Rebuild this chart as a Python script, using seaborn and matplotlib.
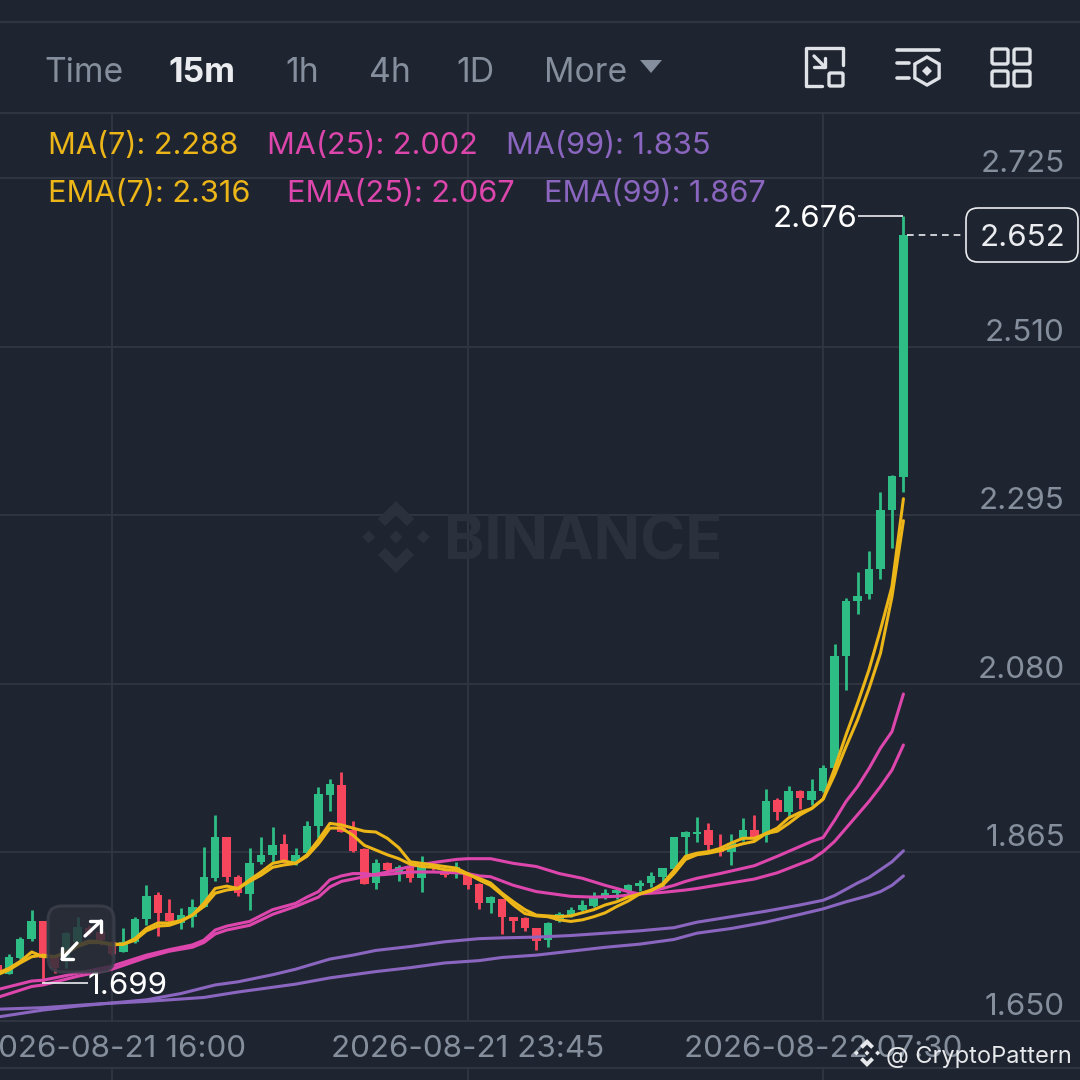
import matplotlib
matplotlib.use("Agg")
import matplotlib.pyplot as plt
import numpy as np
import pandas as pd
import seaborn as sns
from matplotlib.patches import FancyBboxPatch, Polygon

# candle index 0 = 2026-08-21 16:00, one step = 15 minutes
first_candle = -10
opens = [1.7214, 1.710, 1.730, 1.755, 1.777, 1.733, 1.728, 1.751, 1.768, 1.763,
         1.751, 1.738, 1.751, 1.780, 1.811, 1.788, 1.775, 1.783, 1.796, 1.832,
         1.884, 1.834, 1.812, 1.853, 1.862, 1.876, 1.853, 1.864, 1.899, 1.938,
         1.951, 1.893, 1.869, 1.826, 1.852, 1.838, 1.846, 1.832, 1.849, 1.841,
         1.838, 1.838, 1.825, 1.800, 1.805, 1.782, 1.781, 1.768, 1.753, 1.777,
         1.785, 1.791, 1.797, 1.808, 1.813, 1.815, 1.822, 1.826, 1.834, 1.844,
         1.885, 1.889, 1.894, 1.870, 1.866, 1.883, 1.893, 1.887, 1.932, 1.916,
         1.943, 1.932, 1.943, 1.972, 2.115, 2.186, 2.194, 2.227, 2.302, 2.344]
highs = [1.724, 1.736, 1.757, 1.791, 1.778, 1.733, 1.764, 1.782, 1.772, 1.766,
         1.752, 1.769, 1.783, 1.823, 1.814, 1.806, 1.794, 1.806, 1.872, 1.913,
         1.885, 1.836, 1.870, 1.884, 1.898, 1.888, 1.870, 1.905, 1.948, 1.958,
         1.967, 1.905, 1.871, 1.857, 1.853, 1.849, 1.849, 1.860, 1.851, 1.843,
         1.853, 1.840, 1.826, 1.809, 1.806, 1.783, 1.782, 1.769, 1.776, 1.789,
         1.796, 1.804, 1.815, 1.818, 1.820, 1.825, 1.830, 1.840, 1.845, 1.885,
         1.892, 1.910, 1.903, 1.889, 1.888, 1.909, 1.913, 1.946, 1.935, 1.950,
         1.945, 1.958, 1.977, 2.131, 2.189, 2.223, 2.249, 2.324, 2.346, 2.676]
lows = [1.706, 1.7095, 1.729, 1.752, 1.699, 1.711, 1.717, 1.749, 1.760, 1.747,
        1.733, 1.738, 1.750, 1.772, 1.759, 1.776, 1.767, 1.770, 1.795, 1.829,
        1.827, 1.809, 1.792, 1.850, 1.853, 1.851, 1.849, 1.862, 1.883, 1.918,
        1.891, 1.865, 1.825, 1.818, 1.840, 1.829, 1.827, 1.815, 1.843, 1.834,
        1.832, 1.818, 1.793, 1.788, 1.761, 1.764, 1.765, 1.740, 1.744, 1.776,
        1.783, 1.790, 1.796, 1.806, 1.806, 1.812, 1.816, 1.821, 1.819, 1.843,
        1.859, 1.878, 1.868, 1.860, 1.849, 1.879, 1.879, 1.878, 1.906, 1.911,
        1.920, 1.926, 1.942, 1.971, 2.072, 2.169, 2.188, 2.213, 2.253, 2.324]
closes = [1.7108, 1.7312, 1.755, 1.777, 1.730, 1.717, 1.762, 1.770, 1.762, 1.753,
          1.736, 1.751, 1.780, 1.810, 1.788, 1.777, 1.785, 1.795, 1.834, 1.884,
          1.834, 1.813, 1.852, 1.862, 1.874, 1.855, 1.862, 1.899, 1.940, 1.952,
          1.891, 1.867, 1.825, 1.851, 1.843, 1.846, 1.832, 1.853, 1.845, 1.836,
          1.846, 1.823, 1.800, 1.808, 1.783, 1.777, 1.768, 1.752, 1.775, 1.787,
          1.791, 1.798, 1.809, 1.813, 1.817, 1.823, 1.826, 1.835, 1.845, 1.884,
          1.891, 1.891, 1.875, 1.866, 1.877, 1.893, 1.885, 1.931, 1.916, 1.943,
          1.934, 1.943, 1.972, 2.115, 2.185, 2.192, 2.226, 2.302, 2.345, 2.652]

ma7 = [1.711, 1.717, 1.726, 1.738, 1.732, 1.732, 1.738, 1.747, 1.752, 1.751,
       1.748, 1.748, 1.755, 1.768, 1.775, 1.775, 1.778, 1.785, 1.800, 1.819,
       1.822, 1.819, 1.830, 1.840, 1.851, 1.854, 1.851, 1.862, 1.881, 1.902,
       1.900, 1.896, 1.892, 1.891, 1.883, 1.871, 1.853, 1.851, 1.849, 1.847,
       1.845, 1.838, 1.830, 1.823, 1.811, 1.798, 1.787, 1.784, 1.783, 1.779,
       1.777, 1.779, 1.783, 1.788, 1.796, 1.803, 1.812, 1.817, 1.823, 1.838,
       1.856, 1.862, 1.864, 1.867, 1.872, 1.876, 1.879, 1.889, 1.892, 1.902,
       1.913, 1.921, 1.933, 1.964, 2.000, 2.034, 2.074, 2.119, 2.191, 2.288]
ema7 = [1.709, 1.715, 1.724, 1.732, 1.734, 1.732, 1.736, 1.745, 1.750, 1.750,
        1.747, 1.748, 1.753, 1.765, 1.771, 1.772, 1.777, 1.785, 1.796, 1.813,
        1.817, 1.819, 1.828, 1.836, 1.846, 1.849, 1.851, 1.860, 1.876, 1.896,
        1.896, 1.887, 1.874, 1.868, 1.862, 1.857, 1.850, 1.847, 1.846, 1.843,
        1.842, 1.837, 1.832, 1.826, 1.813, 1.802, 1.792, 1.785, 1.784, 1.783,
        1.784, 1.788, 1.792, 1.798, 1.802, 1.808, 1.812, 1.816, 1.825, 1.842,
        1.860, 1.864, 1.866, 1.870, 1.877, 1.883, 1.883, 1.889, 1.896, 1.909,
        1.916, 1.921, 1.933, 1.972, 2.015, 2.055, 2.098, 2.149, 2.204, 2.316]

ma25_at = [-10, -7, -6, -3, 0, 3, 5, 7, 8, 9, 10, 12, 14, 16, 17, 18, 19, 20, 21, 22, 23, 24, 26,
           28, 30, 31, 33, 35, 37, 39, 41, 43, 45, 46, 48, 50, 51, 56, 58, 61, 62, 63, 64, 65,
           66, 67, 68, 69]
ma25 = [1.680, 1.694, 1.696, 1.707, 1.716, 1.731, 1.739, 1.744, 1.750, 1.761, 1.766, 1.772,
        1.786, 1.796, 1.802, 1.808, 1.821, 1.828, 1.831, 1.834, 1.837, 1.840, 1.847, 1.852,
        1.856, 1.857, 1.857, 1.851, 1.847, 1.838, 1.832, 1.823, 1.815, 1.812, 1.814, 1.817,
        1.819, 1.831, 1.839, 1.856, 1.866, 1.879, 1.896, 1.913, 1.930, 1.949, 1.970, 2.002]
ema25_at = [-10, -7, -6, -3, 0, 3, 5, 7, 8, 9, 10, 12, 14, 16, 17, 18, 19, 20, 21, 22, 23, 24, 26,
            28, 30, 31, 32, 33, 35, 37, 38, 40, 42, 44, 46, 48, 49, 50, 51, 53, 56, 58, 61, 62,
            63, 64, 65, 66, 67, 68, 69]
ema25 = [1.690, 1.701, 1.702, 1.711, 1.720, 1.734, 1.741, 1.747, 1.753, 1.766, 1.771, 1.777,
         1.792, 1.800, 1.808, 1.815, 1.830, 1.835, 1.838, 1.838, 1.836, 1.837, 1.840, 1.840,
         1.839, 1.838, 1.835, 1.834, 1.823, 1.815, 1.813, 1.809, 1.808, 1.809, 1.812, 1.819,
         1.823, 1.828, 1.832, 1.838, 1.848, 1.860, 1.879, 1.884, 1.906, 1.930, 1.949, 1.972,
         1.998, 2.019, 2.067]
ma99_at = [-10, -6, -1, 3, 8, 11, 14, 16, 19, 21, 23, 26, 29, 32, 34, 37, 40, 43, 46, 49, 51,
           54, 57, 60, 62, 64, 66, 67, 68, 69]
ma99 = [1.665, 1.667, 1.672, 1.675, 1.680, 1.687, 1.693, 1.697, 1.705, 1.709, 1.713, 1.718,
        1.724, 1.727, 1.731, 1.734, 1.739, 1.744, 1.748, 1.754, 1.762, 1.768, 1.776, 1.786,
        1.793, 1.802, 1.810, 1.815, 1.823, 1.835]
ema99_at = [-10, -6, -3, 0, 3, 6, 9, 11, 14, 16, 19, 21, 23, 26, 29, 32, 34, 37, 40, 43, 46, 49,
            51, 54, 57, 60, 62, 63, 65, 66, 67, 68, 69]
ema99 = [1.655, 1.664, 1.669, 1.673, 1.677, 1.685, 1.696, 1.700, 1.709, 1.716, 1.729, 1.734,
         1.740, 1.745, 1.751, 1.755, 1.756, 1.757, 1.759, 1.762, 1.765, 1.769, 1.776, 1.783,
         1.790, 1.798, 1.804, 1.810, 1.826, 1.833, 1.843, 1.853, 1.867]

price_ticks = [1.650, 1.865, 2.080, 2.295, 2.510, 2.725]
time_ticks = [0, 31, 62]
time_labels = ["2026-08-21 16:00", "2026-08-21 23:45", "2026-08-22 07:30"]

BG = "#1f2530"
GRID = "#2f3541"
GRAY = "#848e9c"
WHITE = "#eaecef"
GREEN = "#2ebd85"
RED = "#f6465d"
YELLOW = "#ecb518"
PINK = "#dd46ac"
PURPLE = "#8b66c0"

sns.set_theme(style="dark")
plt.rcParams["font.family"] = ["Inter", "DejaVu Sans"]

fig = plt.figure(figsize=(10.8, 10.8), dpi=100, facecolor=BG)
ax = fig.add_axes([0, 59 / 1080, 1, 908 / 1080], facecolor=BG)

candles = pd.DataFrame({"o": opens, "h": highs, "l": lows, "c": closes})
candles["i"] = np.arange(len(candles)) + first_candle
candles["color"] = np.where(candles["c"] >= candles["o"], GREEN, RED)

ax.vlines(candles["i"], candles["l"], candles["h"], colors=candles["color"], lw=2.0, zorder=2)
ax.bar(candles["i"], (candles["c"] - candles["o"]).abs(), bottom=candles[["o", "c"]].min(axis=1),
       width=0.74, color=candles["color"], linewidth=0, zorder=2.1)

lines = [
    (ema99_at, ema99, PURPLE),
    (ma99_at, ma99, PURPLE),
    (ema25_at, ema25, PINK),
    (ma25_at, ma25, PINK),
    (candles["i"], ema7, YELLOW),
    (candles["i"], ma7, YELLOW),
]
for xs, ys, col in lines:
    sns.lineplot(x=np.asarray(xs), y=ys, ax=ax, color=col, lw=2.2, estimator=None, sort=False,
                 legend=False, zorder=3)

ax.set_xlim(-112 / 11.47, 968 / 11.47)
ax.set_ylim(1.65, 1.65 + 908 / 784.2)
ax.set_xlabel("")
ax.set_ylabel("")
ax.set_axisbelow(True)
ax.grid(True, color=GRID, lw=1.4)
for s in ax.spines.values():
    s.set_visible(False)
ax.spines["bottom"].set_visible(True)
ax.spines["bottom"].set_color(GRID)
ax.spines["bottom"].set_linewidth(1.4)

ax.set_xticks(time_ticks)
ax.set_xticklabels(time_labels)
ax.tick_params(axis="x", length=0, pad=10, labelsize=22.6, labelcolor=GRAY)
ax.yaxis.tick_right()
ax.set_yticks(price_ticks)
ax.set_yticklabels([f"{p:.3f}" for p in price_ticks])
ax.tick_params(axis="y", length=0, pad=-11, labelsize=22.6, labelcolor=GRAY)
for t in ax.get_yticklabels():
    t.set_ha("right")
    t.set_va("bottom")

# high / low / last price labels
ax.hlines(2.676, 65.05, 69, color=WHITE, lw=1.2, zorder=4)
ax.text(64.95, 2.676, "2.676", color="white", fontsize=22.6, ha="right", va="center_baseline", zorder=4)
ax.hlines(2.652, 69.3, 74.4, color=WHITE, lw=1.2, linestyles=(0, (4, 3)), zorder=4)
ax.hlines(1.699, -6.1, -2.1, color=WHITE, lw=1.2, zorder=4)
ax.text(-2.1, 1.699, "1.699", color="white", fontsize=22.6, ha="left", va="center_baseline", zorder=4)

# toolbar, legend and watermarks, in picture pixels
top = fig.add_axes([0, 0, 1, 1], facecolor="none", zorder=5)
top.set_xlim(0, 1080)
top.set_ylim(1080, 0)
top.axis("off")


def logo(cx, cy, s, color, z=1):
    d = 0.18
    parts = [
        [(0, -d), (d, 0), (0, d), (-d, 0)],
        [(-0.76 + x, y) for x, y in [(0, -d), (d, 0), (0, d), (-d, 0)]],
        [(0.76 + x, y) for x, y in [(0, -d), (d, 0), (0, d), (-d, 0)]],
        [(0, -1), (0.5, -0.5), (0.3, -0.3), (0, -0.6), (-0.3, -0.3), (-0.5, -0.5)],
        [(0, 1), (0.5, 0.5), (0.3, 0.3), (0, 0.6), (-0.3, 0.3), (-0.5, 0.5)],
    ]
    for pts in parts:
        top.add_patch(Polygon([(cx + x * s, cy + y * s) for x, y in pts], color=color, lw=0, zorder=z))


for y in [22, 113, 1068]:
    top.plot([0, 1080], [y, y], color=GRID, lw=1.6)
for x in [112, 467.5, 823]:
    top.plot([x, x], [1068, 1080], color=GRID, lw=1.4)

for x, label, col, w in [(44, "Time", GRAY, "normal"), (168, "15m", WHITE, "bold"), (285, "1h", GRAY, "normal"),
                         (369, "4h", GRAY, "normal"), (456, "1D", GRAY, "normal"), (544, "More", GRAY, "normal")]:
    top.text(x, 69, label, color=col, fontsize=24.3, fontweight=w, va="center_baseline")
top.add_patch(Polygon([(640, 60), (662, 60), (651, 73)], color=GRAY, lw=0))

for x, y, label, col in [(48, 143, "MA(7): 2.288", YELLOW), (267, 143, "MA(25): 2.002", PINK),
                         (506, 143, "MA(99): 1.835", PURPLE), (48, 191, "EMA(7): 2.316", YELLOW),
                         (287, 191, "EMA(25): 2.067", PINK), (544, 191, "EMA(99): 1.867", PURPLE)]:
    top.text(x, y, label, color=col, fontsize=22.1, va="center_baseline")

# toolbar icons
ic = "#dfe2e7"
top.plot([843, 843, 806, 806, 822], [65, 48, 48, 86, 86], color=ic, lw=2.4, solid_joinstyle="round")
top.add_patch(FancyBboxPatch((829, 73), 14, 13, boxstyle="round,pad=0,rounding_size=1.5", fc="none", ec=ic, lw=2.4))
top.plot([814, 825], [56, 67], color=ic, lw=2.4)
top.plot([814, 825, 825], [67, 67, 58], color=ic, lw=2.4)
top.plot([897, 939], [50, 50], color=ic, lw=2.6)
top.plot([897, 909], [63, 63], color=ic, lw=2.6)
top.plot([897, 909], [78, 78], color=ic, lw=2.6)
hx = [927 + 14 * np.sin(a) for a in np.radians(range(0, 360, 60))]
hy = [71 + 14 * np.cos(a) for a in np.radians(range(0, 360, 60))]
top.add_patch(Polygon(list(zip(hx, hy)), closed=True, fc="none", ec=ic, lw=2.4))
top.add_patch(Polygon([(927, 66), (932, 71), (927, 76), (922, 71)], color=ic, lw=0))
for x0, y0 in [(992, 49), (1014, 49), (992, 71), (1014, 71)]:
    top.add_patch(FancyBboxPatch((x0, y0), 16, 15, boxstyle="round,pad=0,rounding_size=2", fc="none", ec=ic, lw=2.4))

# last price box
top.add_patch(FancyBboxPatch((966, 208), 112, 54, boxstyle="round,pad=0,rounding_size=12", fc=BG, ec=WHITE, lw=1.2))
top.text(1023, 235, "2.652", color=WHITE, fontsize=22.6, ha="center", va="center_baseline")

# BINANCE watermark
logo(396, 537, 36, "#2b313c")
top.text(444, 537, "BINANCE", color="#2b313c", fontsize=44, fontweight="bold", va="center_baseline")

# fullscreen button over the chart
top.add_patch(FancyBboxPatch((48, 906), 66, 66, boxstyle="round,pad=0,rounding_size=14", fc="#2a2e39", ec="#3c404c",
                             lw=2.2, alpha=0.82))
top.plot([85, 101], [936, 921], color="white", lw=2.4)
top.plot([90, 101, 101], [921, 921, 932], color="white", lw=2.4)
top.plot([77, 62], [943, 959], color="white", lw=2.4)
top.plot([62, 62, 73], [948, 959, 959], color="white", lw=2.4)

# bottom right credit
logo(867, 1053, 14, "#e6e8eb", z=6)
top.text(886, 1055, "@ CryptoPattern", color="#e6e8eb", fontsize=17, va="center_baseline", zorder=6)

fig.savefig("out.png", dpi=100, facecolor=BG)
